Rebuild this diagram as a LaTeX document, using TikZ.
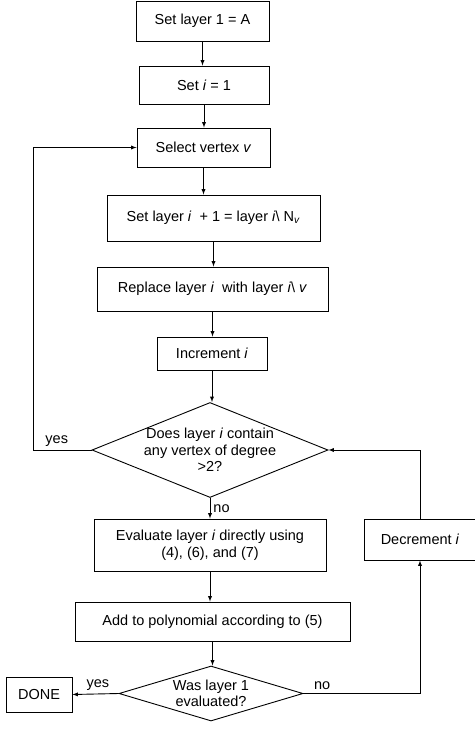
\documentclass[tikz,border=0pt]{standalone}
\usepackage{fontspec}
\setmainfont{Liberation Sans}
\usetikzlibrary{shapes.geometric}

\begin{document}
\begin{tikzpicture}[x=1pt,y=-1pt,line width=0.9pt,>=latex,
        font=\fontsize{14.5}{16.5}\selectfont,
        box/.style={draw,inner sep=0pt,align=center},
        decision/.style={draw,diamond,inner sep=0pt}]
                \useasboundingbox (0,0) rectangle (474,739);
                \node[box,minimum width=133pt,minimum height=40pt] (setA) at (202.5,21) {Set layer 1 = A};
                \node[box,minimum width=130pt,minimum height=38pt] (seti) at (204,85) {Set \textit{i} = 1};
                \node[box,minimum width=133pt,minimum height=39pt] (select) at (203.5,147.5) {Select vertex \textit{v}};
                \node[box,minimum width=213pt,minimum height=46pt] (next) at (213.5,218) {Set layer \textit{i}\ \ + 1 = layer \textit{i}\textbackslash\ N\textsubscript{\textit{v}}};
                \node[box,minimum width=231pt,minimum height=44pt] (replace) at (212.5,289) {Replace layer \textit{i}\ \ with layer \textit{i}\textbackslash\ \textit{v}};
                \node[box,minimum width=110pt,minimum height=33pt] (incr) at (212,353.5) {Increment \textit{i}};
                \node[decision,minimum width=236pt,minimum height=95pt] (degree) at (210,450) {};
                \node[align=center] (degreetext) at (degree) {Does layer \textit{i} contain\\any vertex of degree\\>2?};
                \node[box,minimum width=232pt,minimum height=52pt] (eval) at (210,545) {Evaluate layer \textit{i} directly using\\(4), (6), and (7)};
                \node[box,minimum width=275pt,minimum height=39pt] (add) at (212.5,621.5) {Add to polynomial according to (5)};
                \node[decision,minimum width=184pt,minimum height=55pt] (first) at (211,693.5) {};
                \node[align=center] (firsttext) at (first) {Was layer 1\\evaluated?};
                \node[box,minimum width=66pt,minimum height=35pt] (done) at (39,694.5) {DONE};
                \node[box,minimum width=112pt,minimum height=41pt] (decr) at (420,539.5) {Decrement \textit{i}};

                \draw[->] (setA.south) -- (setA.south |- seti.north);
                \draw[->] (seti.south) -- (seti.south |- select.north);
                \draw[->] (select.south) -- (select.south |- next.north);
                \draw[->] (next.south) -- (next.south |- replace.north);
                \draw[->] (replace.south) -- (replace.south |- incr.north);
                \draw[->] (incr.south) -- (incr.south |- degree.north);
                \draw[->] (degree.south) -- node[right,inner sep=3pt] {no} (degree.south |- eval.north);
                \draw[->] (eval.south) -- (eval.south |- add.north);
                \draw[->] (add.south) -- (add.south |- first.north);
                \draw[->] (degree.west) -- node[above,pos=0.6] {yes} ++(-58,0) |- (select.west);
                \draw[->] (first.west) -- node[above,pos=0.45] {yes} (done.east);
                \draw[->] (first.east) -| node[above,pos=0.08] {no} (decr.south);
                \draw[->] (decr.north) |- (degree.east);
\end{tikzpicture}
\end{document}
